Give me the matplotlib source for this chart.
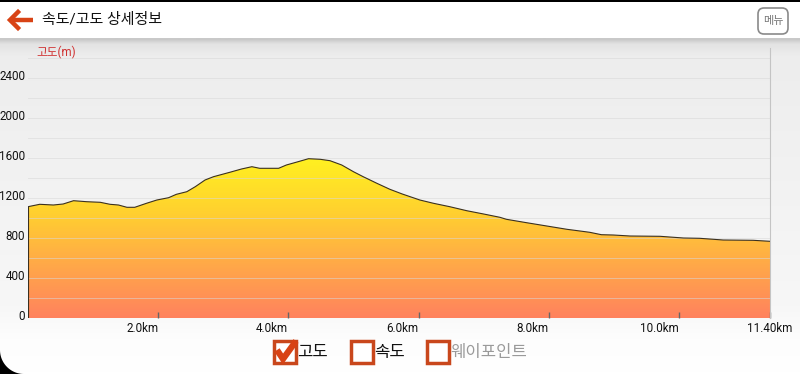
import matplotlib
matplotlib.use("Agg")
import matplotlib.pyplot as plt
import numpy as np
from matplotlib.colors import LinearSegmentedColormap
from matplotlib.patches import Polygon, Rectangle, FancyBboxPatch
from matplotlib.transforms import ScaledTranslation

plt.rcParams['font.family'] = ['Roboto', 'Noto Sans CJK KR', 'DejaVu Sans']

# 거리(km) / 고도(m)
dist_km = [0.00, 0.18, 0.39, 0.54, 0.70, 0.90, 1.11, 1.26, 1.39, 1.52, 1.64, 1.82,
           1.98, 2.16, 2.28, 2.44, 2.57, 2.72, 2.85, 3.10, 3.28, 3.44, 3.56, 3.85,
           3.97, 4.15, 4.31, 4.49, 4.64, 4.82, 5.00, 5.15, 5.36, 5.56, 5.75, 6.02,
           6.23, 6.48, 6.74, 7.00, 7.25, 7.35, 7.66, 7.97, 8.28, 8.48, 8.63, 8.81,
           8.99, 9.25, 9.71, 10.07, 10.32, 10.68, 11.14, 11.40]
elev_m = [1113, 1137, 1130, 1140, 1173, 1163, 1157, 1137, 1130, 1107, 1107, 1147,
          1180, 1203, 1237, 1263, 1313, 1380, 1413, 1457, 1490, 1513, 1497, 1497,
          1530, 1563, 1593, 1587, 1573, 1530, 1463, 1413, 1347, 1287, 1240, 1180,
          1147, 1113, 1073, 1040, 1007, 987, 953, 920, 887, 870, 857, 833,
          830, 820, 817, 800, 797, 780, 777, 767]

x_ticks = [2.0, 4.0, 6.0, 8.0, 10.0, 11.4]
x_labels = ['2.0km', '4.0km', '6.0km', '8.0km', '10.0km', '11.40km']
y_ticks = [0, 400, 800, 1200, 1600, 2000, 2400]

fig = plt.figure(figsize=(8, 3.74), dpi=100)

# 배경 (픽셀 좌표)
bg = fig.add_axes([0, 0, 1, 1], zorder=0)
bg.set_xlim(0, 800)
bg.set_ylim(374, 0)
bg.axis('off')

bg_cmap = LinearSegmentedColormap.from_list('bg', [
    (0.0, '#c9c9c9'), (0.015, '#e3e3e3'), (0.05, '#ededed'),
    (0.8, '#f7f7f7'), (0.9, '#fdfdfd'), (1.0, '#ffffff')])
grad = np.linspace(0, 1, 300).reshape(-1, 1)
bg.imshow(grad, cmap=bg_cmap, extent=[0, 800, 374, 38], aspect='auto')
bg.set_ylim(374, 0)

# 상단 바
bg.add_patch(Rectangle((0, 0), 800, 38, facecolor='white', edgecolor='none'))
bg.add_patch(Rectangle((0, 0), 800, 2, facecolor='black', edgecolor='none'))
bg.plot([10, 33], [20, 20], color='#d84315', lw=3.2, solid_capstyle='butt')
bg.plot([18, 10, 18], [12, 20, 28], color='#d84315', lw=3.2, solid_joinstyle='miter')
bg.text(42, 20, '속도/고도 상세정보', fontsize=10.8, va='center', ha='left', color='#111111')
bg.add_patch(FancyBboxPatch((758, 8), 30, 26, boxstyle='round,pad=0,rounding_size=6',
                            facecolor='white', edgecolor='#8a8a8a', lw=1.2))
bg.text(773, 21, '메뉴', fontsize=8, va='center', ha='center', color='#777777')

# 하단 체크박스
def checkbox(x, label, checked, color):
    bg.add_patch(Rectangle((x, 341), 22, 22, facecolor='white', edgecolor='#c9471c', lw=2.5))
    if checked:
        bg.plot([x + 3, x + 9, x + 22], [350, 359, 341], color='#d84315', lw=4.5,
                solid_capstyle='butt', solid_joinstyle='miter')
    bg.text(x + 23, 352, label, fontsize=12, va='center', ha='left', color=color)

checkbox(274, '고도', True, '#111111')
checkbox(351, '속도', False, '#111111')
checkbox(427, '웨이포인트', False, '#9a9a9a')

# 좌하단 모서리
t = np.linspace(np.pi, np.pi / 2, 40)
corner = [(0, 374), (0, 350)] + list(zip(24 + 24 * np.cos(t), 350 + 24 * np.sin(t))) + [(24, 374)]
bg.add_patch(Polygon(corner, closed=True, facecolor='black', edgecolor='none'))

# 고도 그래프
ax = fig.add_axes([28 / 800, (374 - 318) / 374, 742 / 800, 270 / 374], zorder=1)
ax.patch.set_alpha(0)

fill_cmap = LinearSegmentedColormap.from_list('fill', ['#ff825e', '#ffa948', '#ffd22e', '#fff220'])
vals = np.linspace(0, 1, 256).reshape(-1, 1)
im = ax.imshow(vals, cmap=fill_cmap, origin='lower', extent=[0, 11.4, 0, 1620],
               aspect='auto', zorder=1)
verts = [(dist_km[0], 0)] + list(zip(dist_km, elev_m)) + [(dist_km[-1], 0)]
poly = Polygon(verts, closed=True, facecolor='none', edgecolor='none', transform=ax.transData)
ax.add_patch(poly)
im.set_clip_path(poly)
ax.plot(dist_km, elev_m, color='#3a3020', lw=0.8, zorder=3)
ax.plot([dist_km[0], dist_km[0]], [0, elev_m[0]], color='#3a3020', lw=0.8, zorder=3)
ax.set_xlim(0, 11.4)
ax.set_ylim(0, 2700)

for gy in range(200, 2700, 200):
    ax.axhline(gy, color='#d8d8d8', lw=0.7, alpha=0.55, zorder=2)

for s in ['top', 'left', 'bottom']:
    ax.spines[s].set_visible(False)
ax.spines['right'].set_color('#c4c4c4')
ax.spines['right'].set_linewidth(0.8)

ax.set_xticks(x_ticks)
ax.set_xticklabels(x_labels)
ax.tick_params(axis='x', direction='in', length=4, width=1, color='#666666',
               labelsize=8.4, pad=3, labelcolor='#111111')
xl = ax.get_xticklabels()
for lbl in xl[:-1]:
    lbl.set_ha('right')
xl[-1].set_ha('center')

ax.set_yticks(y_ticks)
ax.tick_params(axis='y', length=0, labelsize=8.4, pad=2, labelcolor='#111111')
off = ScaledTranslation(0, 3.5 / 100, fig.dpi_scale_trans)
for lbl in ax.get_yticklabels():
    lbl.set_transform(lbl.get_transform() + off)

bg.text(36, 52, '고도(m)', fontsize=8.4, va='center', ha='left', color='#d03030')

fig.savefig('out.png', dpi=100)
